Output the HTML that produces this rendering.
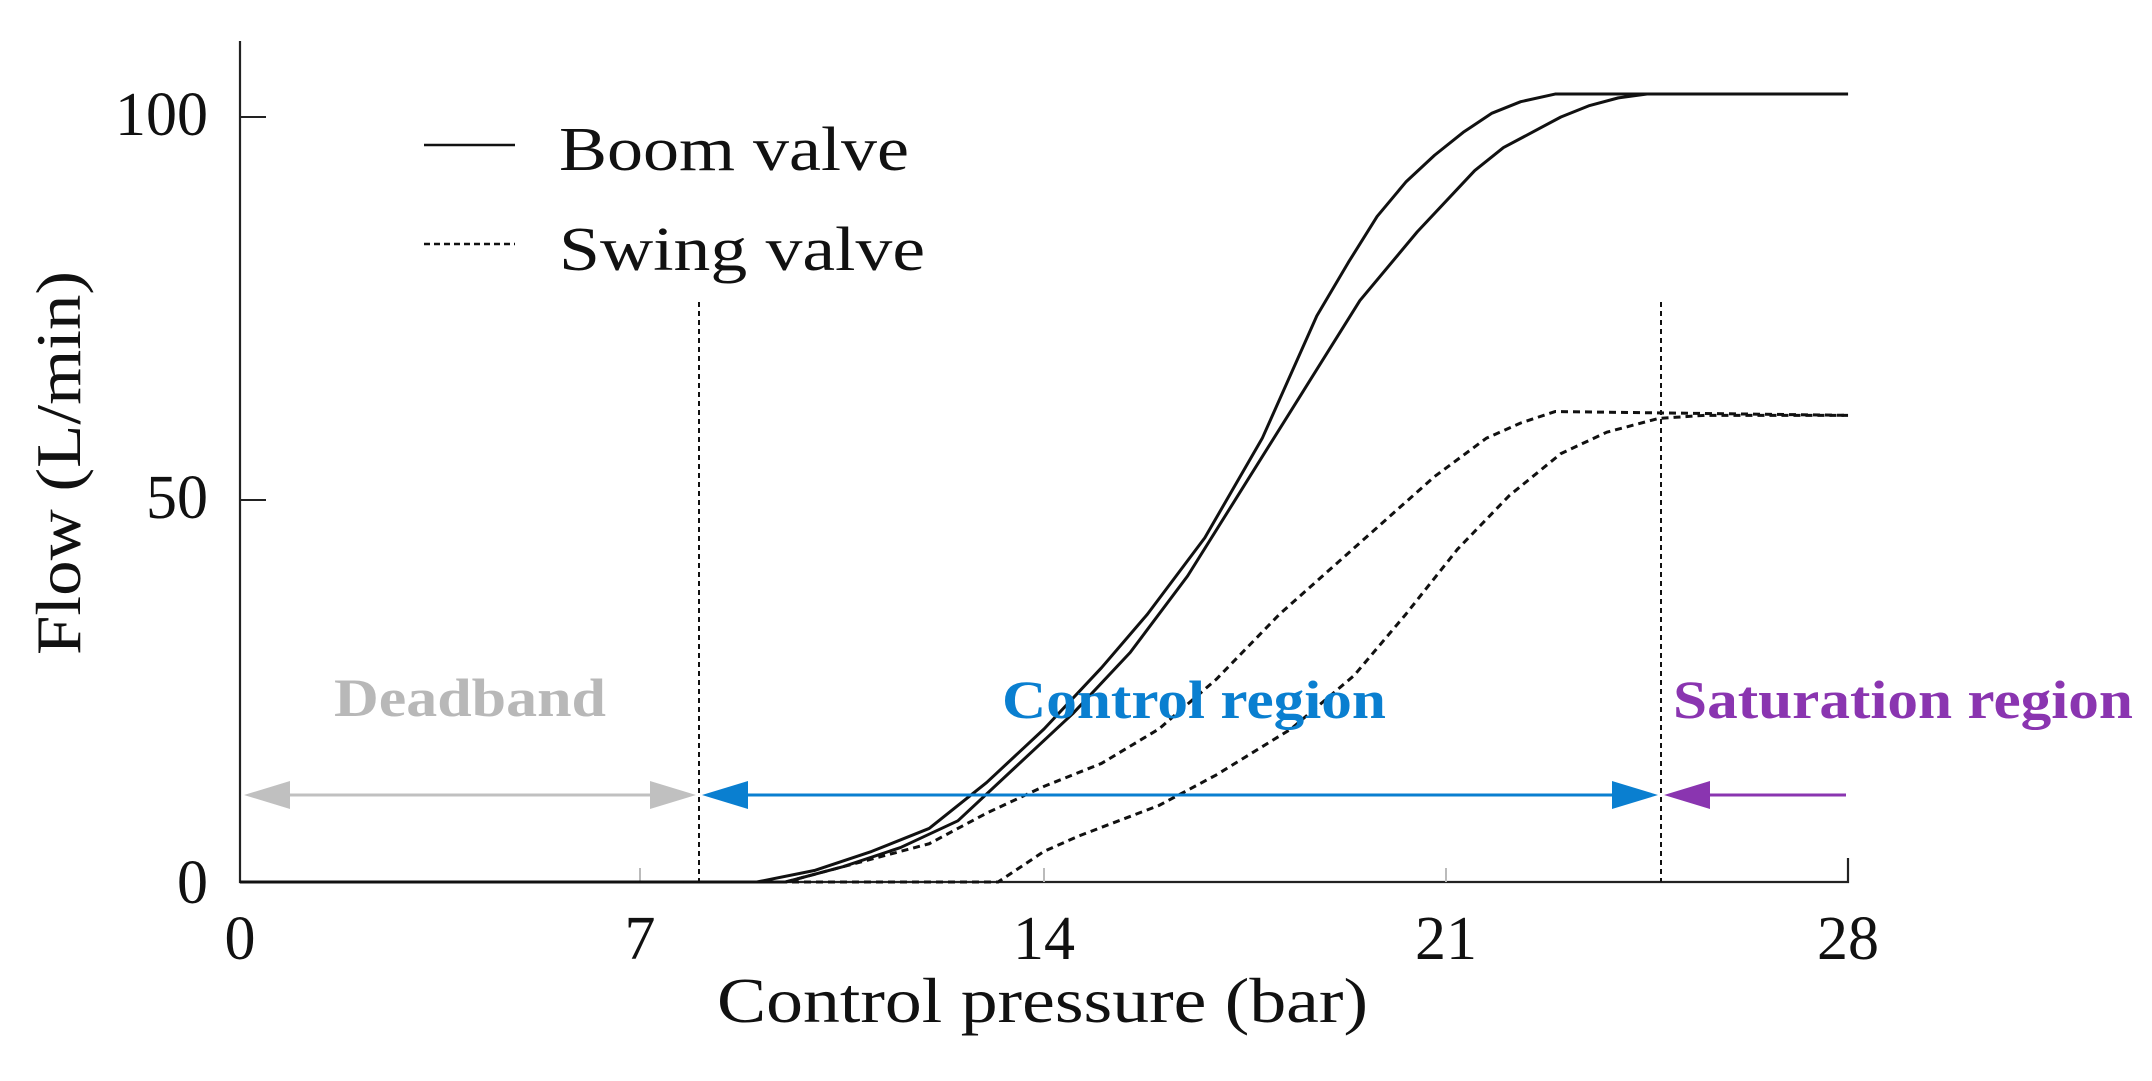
<!DOCTYPE html>
<html><head><style>
html,body{margin:0;padding:0;background:#fff;}
svg{display:block;}
text{font-family:"Liberation Serif",serif;}
</style></head><body>
<svg width="2152" height="1081" viewBox="0 0 2152 1081">
<rect width="2152" height="1081" fill="#fff"/>
<path d="M240,41 V882 H1848 V858" fill="none" stroke="#222" stroke-width="2.2"/>
<path d="M240,117 H266 M240,500 H266" stroke="#222" stroke-width="2"/>
<path d="M640,882 V868 M1044,882 V868 M1446,882 V868" stroke="#bbb" stroke-width="2"/>
<g font-size="62" fill="#111" text-anchor="end">
<text x="208" y="135">100</text>
<text x="208" y="518">50</text>
<text x="208" y="903">0</text>
</g>
<g font-size="62" fill="#111" text-anchor="middle">
<text x="240" y="959">0</text>
<text x="640" y="959">7</text>
<text x="1044" y="959">14</text>
<text x="1446" y="959">21</text>
<text x="1848" y="959">28</text>
</g>
<text x="717" y="1022" font-size="64" fill="#111" textLength="651" lengthAdjust="spacingAndGlyphs">Control pressure (bar)</text>
<text transform="translate(80,655) rotate(-90)" font-size="64" fill="#111" textLength="384" lengthAdjust="spacingAndGlyphs">Flow (L/min)</text>
<line x1="424" y1="145" x2="515" y2="145" stroke="#111" stroke-width="2.5"/>
<line x1="424" y1="244" x2="515" y2="244" stroke="#111" stroke-width="2.5" stroke-dasharray="6,4"/>
<text x="559" y="170" font-size="62" fill="#111" textLength="350" lengthAdjust="spacingAndGlyphs">Boom valve</text>
<text x="559" y="270" font-size="62" fill="#111" textLength="366" lengthAdjust="spacingAndGlyphs">Swing valve</text>
<line x1="699" y1="302" x2="699" y2="882" stroke="#111" stroke-width="2" stroke-dasharray="5,4"/>
<line x1="1661" y1="302" x2="1661" y2="882" stroke="#111" stroke-width="2" stroke-dasharray="5,4"/>
<g transform="translate(240,882) scale(57.43,-7.65)" fill="none" stroke="#111" stroke-linejoin="round">
<polyline vector-effect="non-scaling-stroke" stroke-width="3" points="0,0 9,0 10,1.5 11,4 12,7 13,13 14,20 15,28 15.8,35 16.8,45 17.8,58 18.75,74 19.3,81 19.8,87 20.3,91.5 20.8,95 21.3,98 21.8,100.5 22.3,102 22.9,103 28,103"/>
<polyline vector-effect="non-scaling-stroke" stroke-width="3" points="0,0 9.5,0 10.5,2 11.5,4.5 12.5,8 13.5,15 14.5,22 15.5,30 16.5,40 17.5,52 18.5,64 19.5,76 20.5,85 21.5,93 22,96 22.5,98 23,100 23.5,101.5 24,102.5 24.5,103 28,103"/>
<polyline vector-effect="non-scaling-stroke" stroke-width="3" stroke-dasharray="7,5" points="9.5,0 11,3 12,5 13,9 14,12.5 15,15.5 16,20 17,26.5 18.1,35 19.6,45 20.8,53 21.7,58 22.3,60 22.9,61.5 28,61"/>
<polyline vector-effect="non-scaling-stroke" stroke-width="3" stroke-dasharray="7,5" points="0,0 13.2,0 14,4 14.6,6 16,10 17,14 18.3,20 19.4,27 20.3,35 21.2,43.5 22.1,50.5 23,56 23.8,58.8 24.7,60.6 25.5,61 28,61"/>
</g>
<line x1="262" y1="795" x2="677" y2="795" stroke="#c0c0c0" stroke-width="3"/>
<polygon points="244,795 290,781 290,809" fill="#c0c0c0"/>
<polygon points="696,795 650,781 650,809" fill="#c0c0c0"/>
<line x1="720" y1="795" x2="1640" y2="795" stroke="#0a7fd0" stroke-width="3"/>
<polygon points="702,795 748,781 748,809" fill="#0a7fd0"/>
<polygon points="1658,795 1612,781 1612,809" fill="#0a7fd0"/>
<line x1="1690" y1="795" x2="1846" y2="795" stroke="#8a35b0" stroke-width="3"/>
<polygon points="1664,795 1710,781 1710,809" fill="#8a35b0"/>
<g font-size="54" font-weight="bold">
<text x="334" y="716" fill="#b8b8b8" textLength="272" lengthAdjust="spacingAndGlyphs">Deadband</text>
<text x="1002" y="718" fill="#0a7fd0" textLength="384" lengthAdjust="spacingAndGlyphs">Control region</text>
<text x="1673" y="718" fill="#8a35b0" textLength="460" lengthAdjust="spacingAndGlyphs">Saturation region</text>
</g>
</svg>
</body></html>
